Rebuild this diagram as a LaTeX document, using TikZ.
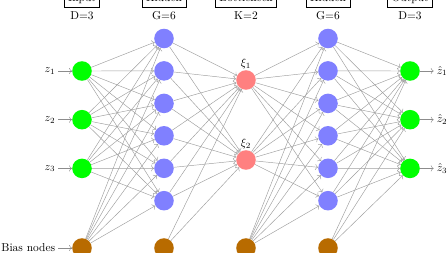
\documentclass[tikz,border=0pt]{standalone}
\usetikzlibrary{arrows.meta}
\definecolor{biascol}{RGB}{184,107,0}
\begin{document}
\begin{tikzpicture}[x=0.8727pt,y=-0.8727pt,
  neuron/.style={circle,minimum size=0.6cm,inner sep=0pt},
  inp/.style={neuron,fill=green},
  hid/.style={neuron,fill=blue!50},
  bot/.style={neuron,fill=red!50},
  bias/.style={neuron,fill=biascol},
  conn/.style={->,draw=black!38,line width=0.4pt},
  ioarrow/.style={->,draw=black!45,line width=0.4pt},
  title/.style={draw,anchor=south,text height=1.6ex,text depth=0.4ex},
  sub/.style={anchor=north}]
\useasboundingbox (0,0) rectangle (448,252);
\clip (0,0) rectangle (448,252);
% layer titles
\foreach \x/\t/\s/\n in {82/Input/D=3/a,164/Hidden/G=6/b,246/Bottleneck/K=2/c,328/Hidden/G=6/d,410/Output/D=3/e}{
  \node[title] (t\n) at (\x,7.3) {\t};
  \node[sub] (s\n) at (\x,7.3) {\s};
}
% nodes
\foreach \i/\y in {1/71,2/119.7,3/168.4}{
  \node[inp] (I\i) at (82,\y) {};
  \node[inp] (O\i) at (410,\y) {};
}
\foreach \i/\y in {1/38.5,2/70.9,3/103.4,4/135.8,5/168.3,6/200.7}{
  \node[hid] (H\i) at (164,\y) {};
  \node[hid] (G\i) at (328,\y) {};
}
\node[bot,label={[inner sep=1pt]above:$\xi_1$}] (B1) at (246,80) {};
\node[bot,label={[inner sep=1pt]above:$\xi_2$}] (B2) at (246,160) {};
\foreach \i/\x in {1/82,2/164,3/246,4/328}{
  \node[bias] (Z\i) at (\x,248) {};
}
% labels
\foreach \i in {1,2,3}{
  \coordinate (ci\i) at ([xshift=-0.42cm]I\i.west);
  \node[anchor=east,inner sep=2.5pt] (li\i) at (ci\i) {$z_\i$};
  \draw[ioarrow] (ci\i) -- (I\i);
  \coordinate (co\i) at ([xshift=0.42cm]O\i.east);
  \node[anchor=west,inner sep=2.5pt] (lo\i) at (co\i) {$\hat{z}_\i$};
  \draw[ioarrow] (O\i) -- (co\i);
}
\coordinate (cb) at ([xshift=-0.42cm]Z1.west);
\node[anchor=east,inner sep=2.5pt] (lb) at (cb) {Bias nodes};
\draw[ioarrow] (cb) -- (Z1);
% connections
\foreach \i in {1,2,3}{\foreach \j in {1,...,6}{\draw[conn] (I\i) -- (H\j);}}
\foreach \j in {1,...,6}{\draw[conn] (Z1) -- (H\j);}
\foreach \i in {1,...,6}{\foreach \j in {1,2}{\draw[conn] (H\i) -- (B\j);}}
\foreach \j in {1,2}{\draw[conn] (Z2) -- (B\j);}
\foreach \i in {1,2}{\foreach \j in {1,...,6}{\draw[conn] (B\i) -- (G\j);}}
\foreach \j in {1,...,6}{\draw[conn] (Z3) -- (G\j);}
\foreach \i in {1,...,6}{\foreach \j in {1,2,3}{\draw[conn] (G\i) -- (O\j);}}
\foreach \j in {1,2,3}{\draw[conn] (Z4) -- (O\j);}
\end{tikzpicture}
\end{document}
